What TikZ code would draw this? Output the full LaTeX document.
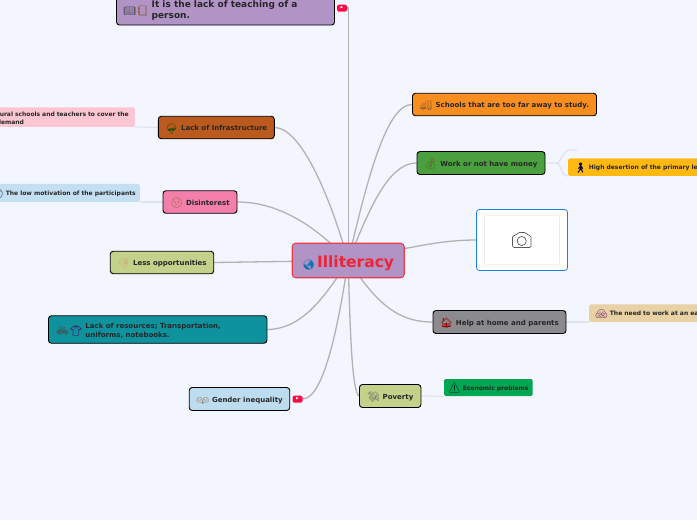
\documentclass[tikz,border=0pt]{standalone}
\usepackage{fontspec}
\setmainfont{DejaVu Sans}
\newfontfamily\emojifont{Noto Emoji}
\newfontfamily\glyphfont{DejaVu Sans}
\usetikzlibrary{backgrounds}
\definecolor{paper}{HTML}{F3F6FF}
\definecolor{branchline}{HTML}{B2B2B2}
\definecolor{twigline}{HTML}{DFE3EE}
\definecolor{plum}{HTML}{B194C5}
\definecolor{rust}{HTML}{BA5A1E}
\definecolor{rose}{HTML}{F57FAB}
\definecolor{olive}{HTML}{C3D18B}
\definecolor{teal2}{HTML}{0E929E}
\definecolor{sky}{HTML}{BEDCF0}
\definecolor{tangerine}{HTML}{F98E20}
\definecolor{leaf}{HTML}{4AA03E}
\definecolor{ash}{HTML}{8B8B8F}
\definecolor{crimson}{HTML}{EC2437}
\definecolor{tube}{HTML}{FF0A45}
\definecolor{blush}{HTML}{FDC6D3}
\definecolor{pale}{HTML}{C5DFF2}
\definecolor{amber}{HTML}{FFB911}
\definecolor{sand}{HTML}{E8D1A4}
\definecolor{emerald}{HTML}{00A651}
\definecolor{frame}{HTML}{1E7FE0}
\newcommand{\icon}[2]{\raisebox{-1.5pt}{\smash{\color{#1}\emojifont\fontsize{10}{10}\selectfont #2}}}
\tikzset{
  topic/.style={draw=black,line width=0.9pt,rounded corners=3pt,inner sep=0pt,
    text height=7.6pt,text depth=1.4pt,
    font=\bfseries\fontsize{7}{9}\selectfont,text=black!85},
  subtopic/.style={rounded corners=1.5pt,inner sep=0pt,
    text height=6.8pt,text depth=1.2pt,
    font=\bfseries\fontsize{6}{8.2}\selectfont,text=black!85},
  branch/.style={draw=branchline,line width=1.3pt},
  twig/.style={draw=twigline,line width=1.2pt},
  ytbadge/.style={fill=tube,rounded corners=1.5pt,minimum width=10pt,minimum height=7pt,inner sep=0pt,
    text=white,font=\glyphfont\fontsize{3.5}{4}\selectfont}
}
\begin{document}
\begin{tikzpicture}[x=1pt,y=-1pt]
\useasboundingbox (0,0) rectangle (697,520);

\node[draw=crimson!90,line width=1.1pt,fill=plum,rounded corners=3.5pt,minimum width=112pt,minimum height=34.5pt,inner sep=0pt,text height=16.4pt,text depth=3pt,text=crimson,font=\bfseries\fontsize{15.5}{18}\selectfont] (central) at (348.2,260.5) {\icon{teal2!80!blue}{🌏}\kern2pt Illiteracy};

\node[topic,fill=plum,minimum width=218pt,minimum height=33pt,text height=9.6pt,font=\bfseries\fontsize{9}{11}\selectfont] (definition) at (225.5,8.5) {\icon{black!75}{📖}\icon{brown!70!black}{📒}\kern3pt\parbox[c]{176pt}{\raggedright It is the lack of teaching of a\\person.}};
\node[ytbadge] (defvideo) at (342,8) {▶};

\node[topic,fill=rust,minimum width=116pt,minimum height=22.5pt] (infra) at (216.3,127.5) {\icon{black!70!green}{🌳}\kern3pt Lack of Infrastructure};
\node[subtopic,fill=blush,anchor=south east,minimum height=19.5pt] (rural) at (135,127) {\parbox[c]{132pt}{\raggedright rural schools and teachers to cover the\\demand}\kern6pt};

\node[topic,fill=rose,minimum width=74pt,minimum height=22.5pt] (disinterest) at (200,202) {\icon{brown!70!black}{😟}\kern3pt Disinterest};
\node[subtopic,fill=pale,anchor=south east,minimum height=18pt] (motivation) at (140,202) {\icon{black}{😟}\kern2pt The low motivation of the participants\kern4pt};

\node[topic,fill=olive,minimum width=103.5pt,minimum height=22.5pt] (chances) at (162,262.5) {\icon{brown!70}{👎}\kern3pt Less opportunities};

\node[topic,fill=teal2,minimum width=218.5pt,minimum height=27.5pt] (resources) at (157.7,329.5) {\icon{black!70}{🚲}\kern1pt\icon{violet!70!black}{👚}\kern3pt\parbox[c]{174pt}{\raggedright Lack of resources; Transportation,\\uniforms, notebooks.}};

\node[topic,fill=sky,minimum width=100.5pt,minimum height=23pt] (gender) at (239.5,399) {\icon{brown!70!black}{👫}\kern3pt Gender inequality};
\node[ytbadge] (gendervideo) at (297.5,399) {▶};

\node[topic,fill=tangerine,minimum width=184pt,minimum height=22.5pt] (distance) at (504.5,104.5) {\icon{brown!80!black}{🚚}\kern3pt Schools that are too far away to study.};

\node[topic,fill=leaf,minimum width=128pt,minimum height=23pt] (work) at (481,163) {\icon{brown!60!black}{💰}\kern3pt Work or not have money};
\node[subtopic,fill=amber,anchor=south west,minimum height=17.5pt] (desertion) at (568,176) {\kern6pt\icon{black!70!blue}{🚶}\kern2pt High desertion of the primary level};
\coordinate (worktwig) at (577,150);

\node[draw=frame,line width=0.8pt,fill=white,rounded corners=3pt,minimum width=91pt,minimum height=61pt] (photo) at (522,240) {};
\node[draw=black!8,line width=0.6pt,rounded corners=2pt,minimum width=75pt,minimum height=49.5pt,inner sep=0pt] (camera) at (522,240) {};
\draw[black!65,line width=0.7pt,rounded corners=1.5pt] (512.5,247.5) -- (512.5,235.5) -- (516,235.5) -- (518,232.5) -- (526,232.5) -- (528,235.5) -- (531,235.5) -- (531,247.5) -- cycle;
\draw[black!65,line width=0.7pt] (521.7,241) circle [radius=4.6];

\node[topic,fill=ash,minimum width=133pt,minimum height=23pt] (household) at (499.5,322) {\icon{red!60!black}{🏠}\kern3pt Help at home and parents};
\node[subtopic,fill=sand,anchor=south west,minimum height=17.5pt] (earlywork) at (589,322) {\kern6pt\icon{violet!70!black}{🙅}\kern2pt The need to work at an early age};

\node[topic,fill=olive,minimum width=61.5pt,minimum height=23pt] (poverty) at (390.2,396) {\icon{black!60}{💸}\kern3pt Poverty};
\node[subtopic,fill=emerald,minimum width=88.5pt,minimum height=17pt] (economic) at (488.3,387.5) {\icon{black}{⚠}\kern2pt Economic problems};

\begin{scope}[on background layer]
\fill[paper] (0,0) rectangle (697,520);
\path[branch] (defvideo.east) -| (central.center);
\path[branch] (infra.east) .. controls (300,128) and (328,190) .. (central.center);
\path[branch] (disinterest.east) .. controls (275,202) and (312,222) .. (central.center);
\path[branch] (chances.east) -- (central.center);
\path[branch] (resources.east) .. controls (300,329) and (322,302) .. (central.center);
\path[branch] (gendervideo.east) .. controls (325,399) and (340,315) .. (central.center);
\path[branch] (distance.west) .. controls (385,104) and (365,190) .. (central.center);
\path[branch] (work.west) .. controls (385,163) and (365,222) .. (central.center);
\path[branch] (photo.west) .. controls (445,240) and (420,245) .. (central.center);
\path[branch] (household.west) .. controls (395,322) and (375,300) .. (central.center);
\path[branch] (poverty.west) .. controls (352,392) and (350,330) .. (central.center);
\path[twig] (rural.south east) -- (infra.west);
\path[twig] (motivation.south east) -- (disinterest.west);
\path[twig] (earlywork.south west) -- (household.east);
\path[twig] (economic.south west) -- (poverty.east);
\path[twig] (work.east) -- (556,163) .. controls (562,163) and (562,150) .. (570,150) -- (worktwig);
\path[twig] (556,163) .. controls (562,163) and (560,176) .. (desertion.south west);
\end{scope}
\end{tikzpicture}
\end{document}
